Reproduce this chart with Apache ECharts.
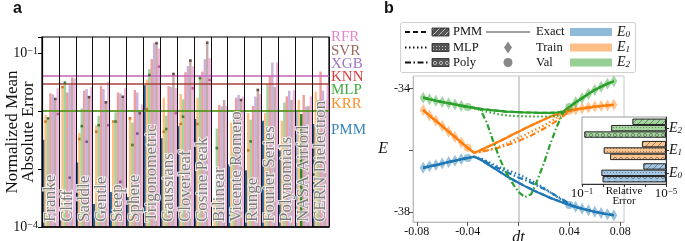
<!DOCTYPE html>
<html>
<head>
<meta charset="utf-8">
<script src="https://cdn.jsdelivr.net/npm/echarts@6/dist/echarts.min.js"></script>
<style>
  html, body { margin: 0; padding: 0; background: #fff; }
  #chart { width: 685px; height: 241px; }
</style>
</head>
<body>
<div id="chart"></div>
<script>
// ---- panel a: normalized mean absolute error per benchmark ----
const benchmarks = ['Franke', 'Cliff', 'Saddle', 'Gentle', 'Steep', 'Sphere', 'Trigonometric', 'Gaussians',
  'Cloverleaf', 'Cosine Peak', 'Bilinear', 'Vicente Romero', 'Runge', 'Fourier Series', 'Polynomials',
  'NASA Airfoil', 'CERN Dielectron'];
const methods = ['PMM', 'KRR', 'MLP', 'KNN', 'XGB', 'SVR', 'RFR'];

const errPMM = [3.2e-3, 1.3e-4, 1.3e-3, 2.5e-4, 4.0e-4, 3.3e-4, 0.028, 3.4e-3, 5.5e-3, 7.3e-3, 5e-5, 1.2e-3, 9.5e-4, 6.8e-3, 2.1e-3, 0.0105, 6.0e-3];
const errKRR = [8.6e-3, 0.027, 4.2e-3, 5.7e-3, 6.2e-3, 7.8e-3, 0.035, 0.017, 0.0197, 0.017, 3e-4, 6.3e-3, 9.2e-3, 9.2e-3, 6.8e-3, 0.0156, 0.0217];
const errMLP = [7.8e-3, 0.031, 0.0112, 8.3e-3, 9.5e-3, 6.3e-3, 0.053, 8.3e-3, 0.016, 0.038, 5.0e-3, 9.4e-3, 7.1e-3, 0.0294, 0.0141, 8.9e-3, 0.0156];
const errKNN = [0.0203, 0.021, 0.0225, 0.0275, 0.021, 0.023, 0.079, 0.027, 0.047, 0.048, 0.0128, 0.017, 0.0123, 0.041, 0.018, 0.019, 0.048];
const errXGB = [0.0195, 0.028, 0.024, 0.024, 0.0203, 0.021, 0.15, 0.026, 0.060, 0.079, 0.012, 0.019, 0.0178, 0.069, 0.0225, 0.012, 0.0225];
const errSVR = [0.0166, 0.038, 0.0178, 0.0146, 0.018, 9.0e-3, 0.15, 0.045, 0.077, 0.15, 0.0156, 0.0156, 0.024, 0.026, 0.0156, 0.0123, 0.0156];
const errRFR = [0.0248, 0.037, 0.026, 0.032, 0.0248, 0.013, 0.12, 0.025, 0.059, 0.082, 0.0123, 0.0178, 0.0197, 0.069, 0.023, 0.018, 0.028];

// small dots inside the bars (null = not visible)
const dotKRR = [6.6e-3, 0.026, 3.3e-3, 4.4e-3, 6.6e-3, 7.5e-3, 0.0108, 4.4e-3, 6e-3, 6e-3, null, null, 2.1e-3, null, null, null, null];
const dotMLP = [7.5e-3, 0.031, 5.5e-3, 5.7e-3, 6.6e-3, 2.6e-3, 0.042, 4.9e-3, 8e-3, 0.037, 2.3e-3, null, 3e-3, null, null, null, null];
const dotXGB = [null, 7.1e-4, 2.96e-3, null, 6e-4, 4.1e-3, null, null, null, null, null, 1.42e-3, null, null, null, null, null];
const dotSVR = [0.0162, null, 0.0174, 0.0142, 0.0177, 9.2e-3, 0.149, 0.0438, 0.0745, 0.152, null, 0.0156, 0.0232, null, null, null, null];
const dotRFR = [8.9e-3, null, null, 5.7e-3, null, null, 0.0586, 9.2e-3, 0.0248, 0.0345, null, null, null, null, null, null, null];

// mean error lines, same order as methods
const meanErr = [0.0047, 0.0130, 0.0141, 0.0294, 0.0381, 0.0319, 0.0403];

// ---- panel b: energies vs dt ----
const dtGrid = [-0.075, -0.07, -0.065, -0.06, -0.055, -0.05, -0.045, -0.04, -0.035, -0.03, -0.025, -0.02, -0.015, -0.01, -0.005, 0,
  0.005, 0.01, 0.015, 0.02, 0.025, 0.03, 0.035, 0.04, 0.045, 0.05, 0.055, 0.06, 0.065, 0.07, 0.075];
const exactE0 = [-36.57, -36.52, -36.48, -36.43, -36.38, -36.34, -36.29, -36.25, -36.21, -36.30, -36.43, -36.56, -36.69, -36.82, -36.94, -37.05,
  -37.16, -37.26, -37.36, -37.45, -37.54, -37.62, -37.70, -37.77, -37.83, -37.89, -37.94, -37.99, -38.03, -38.07, -38.10];
const exactE1 = [-34.70, -34.88, -35.05, -35.22, -35.40, -35.57, -35.75, -35.92, -36.08, -36.00, -35.90, -35.81, -35.71, -35.61, -35.50, -35.40,
  -35.30, -35.20, -35.10, -35.01, -34.92, -34.84, -34.77, -34.72, -34.68, -34.65, -34.62, -34.59, -34.57, -34.55, -34.53];
const exactE2 = [-34.30, -34.35, -34.40, -34.44, -34.48, -34.52, -34.56, -34.60, -34.63, -34.66, -34.69, -34.71, -34.73, -34.75, -34.76, -34.77,
  -34.78, -34.78, -34.79, -34.79, -34.79, -34.78, -34.75, -34.60, -34.45, -34.32, -34.18, -34.05, -33.95, -33.85, -33.77];
const mlpE0 = [-36.57, -36.52, -36.48, -36.43, -36.38, -36.34, -36.29, -36.25, -36.21, -36.26, -36.35, -36.45, -36.55, -36.63, -36.70, -36.78,
  -36.88, -36.98, -37.10, -37.22, -37.36, -37.50, -37.63, -37.75, -37.83, -37.89, -37.94, -37.99, -38.03, -38.07, -38.10];
const mlpE1 = [-34.70, -34.88, -35.05, -35.22, -35.40, -35.57, -35.75, -35.92, -36.08, -36.05, -36.00, -35.95, -35.88, -35.80, -35.70, -35.60,
  -35.50, -35.40, -35.30, -35.20, -35.08, -34.95, -34.85, -34.75, -34.68, -34.65, -34.62, -34.59, -34.57, -34.55, -34.53];
const mlpE2 = [-34.30, -34.35, -34.40, -34.44, -34.48, -34.52, -34.56, -34.60, -34.65, -34.70, -34.75, -34.80, -34.84, -34.87, -34.89, -34.90,
  -34.90, -34.91, -34.91, -34.91, -34.91, -34.90, -34.82, -34.62, -34.45, -34.32, -34.18, -34.05, -33.95, -33.85, -33.77];
const polyE0 = [-36.57, -36.52, -36.48, -36.43, -36.38, -36.34, -36.29, -36.25, -36.21, -36.28, -36.39, -36.50, -36.60, -36.70, -36.79, -36.88,
  -36.96, -37.05, -37.15, -37.25, -37.36, -37.48, -37.60, -37.72, -37.83, -37.89, -37.94, -37.99, -38.03, -38.07, -38.10];
const polyE1 = [-34.70, -34.88, -35.05, -35.22, -35.40, -35.57, -35.75, -35.92, -36.08, -36.05, -36.01, -35.97, -35.91, -35.85, -35.78, -35.70,
  -35.61, -35.52, -35.41, -35.30, -35.18, -35.05, -34.90, -34.75, -34.68, -34.65, -34.62, -34.59, -34.57, -34.55, -34.53];
const polyE2 = [-34.30, -34.35, -34.40, -34.44, -34.48, -34.52, -34.56, -34.60, -34.63, -34.68, -35.10, -35.70, -36.25, -36.70, -37.05, -37.35,
  -37.52, -37.42, -36.95, -36.42, -35.80, -35.25, -34.80, -34.60, -34.45, -34.32, -34.18, -34.05, -33.95, -33.85, -33.77];
// PMM prediction lies on top of the exact curve at this scale
const pmmE0 = exactE0, pmmE1 = exactE1, pmmE2 = exactE2;

const trainDt = [-0.075, -0.07, -0.065, -0.06, -0.055, -0.05, -0.045, 0.045, 0.05, 0.055, 0.06, 0.065, 0.07, 0.075];
const valDt = [-0.04, 0.04];

// inset: relative error per state, per model
const states = ['E0', 'E1', 'E2'];
const relErrPMM = [1.2e-4, 1.4e-4, 4.0e-4];
const relErrMLP = [0.012, 9.3e-3, 4.1e-3];
const relErrPoly = [0.0105, 4.6e-3, 0.078];

// ---------------------------------------------------------------
const SERIF = '"Liberation Serif", "DejaVu Serif", serif';
const lightBar = ['rgba(31,119,180,0.55)', 'rgba(255,127,14,0.5)', 'rgba(44,160,44,0.45)', 'rgba(214,39,40,0.45)',
  'rgba(148,103,189,0.5)', 'rgba(140,86,75,0.5)', 'rgba(227,119,194,0.55)'];
const darkBar = ['#1d5f9b', '#e0700a', '#23862a', '#b01e20', '#7a4fa5', '#6e4239', '#c75aa8'];
const dotColor = ['#12406b', '#d0650a', '#1c701c', '#a01818', '#6a3a9a', '#4e2e26', '#c0409a'];
const lineAlpha = ['rgba(31,119,180,0.75)', 'rgba(255,127,14,0.7)', 'rgba(44,160,44,0.7)', 'rgba(214,39,40,0.55)',
  'rgba(148,103,189,0.6)', 'rgba(140,86,75,0.45)', 'rgba(227,119,194,0.6)'];
const AMIN = 1e-4;   // panel a axis floor
const IMIN = 1e-5;   // inset axis floor

const errs = [errPMM, errKRR, errMLP, errKNN, errXGB, errSVR, errRFR];
const dots = [null, dotKRR, dotMLP, null, dotXGB, dotSVR, dotRFR];
const bestIdx = benchmarks.map((_, c) => {
  let b = 0;
  errs.forEach((e, m) => { if (e[c] < errs[b][c]) b = m; });
  return b;
});

function hatch(bg, fg, kind) {
  const c = document.createElement('canvas');
  c.width = 6; c.height = 6;
  const g = c.getContext('2d');
  g.fillStyle = bg; g.fillRect(0, 0, 6, 6);
  g.strokeStyle = fg; g.fillStyle = fg; g.lineWidth = 1;
  if (kind === 'pmm') {
    g.beginPath();
    g.moveTo(0, 6); g.lineTo(6, 0);
    g.moveTo(-3, 3); g.lineTo(3, -3);
    g.moveTo(3, 9); g.lineTo(9, 3);
    g.stroke();
  } else if (kind === 'mlp') {
    g.fillRect(1, 1, 1, 1); g.fillRect(4, 4, 1, 1); g.fillRect(1, 4, 1, 1); g.fillRect(4, 1, 1, 1);
  } else {
    g.beginPath(); g.arc(3, 3, 1.6, 0, Math.PI * 2); g.stroke();
  }
  return { image: c, repeat: 'repeat' };
}
const stateFill = ['#a4c6e2', '#fcc590', '#a5d6a0'];

const series = [];

// panel a bars: a transparent floor bar stacked under each value so bars rise from 1e-4
methods.forEach((name, m) => {
  series.push({
    type: 'bar', xAxisIndex: 0, yAxisIndex: 0, stack: 's' + m, silent: true,
    barGap: '0%', barCategoryGap: '0%',
    data: benchmarks.map(() => AMIN),
    itemStyle: { color: 'rgba(0,0,0,0)' }
  });
  series.push({
    type: 'bar', name, xAxisIndex: 0, yAxisIndex: 0, stack: 's' + m, silent: true,
    barGap: '0%', barCategoryGap: '0%',
    data: errs[m].map((v, c) => ({
      value: Math.max(v - AMIN, 0),
      itemStyle: { color: bestIdx[c] === m ? darkBar[m] : lightBar[m] }
    })),
    markLine: {
      silent: true, symbol: 'none', z: 4,
      label: { show: false },
      lineStyle: { color: lineAlpha[m], width: 2, type: 'solid' },
      data: [{ yAxis: meanErr[m] }]
    }
  });
  if (dots[m]) {
    series.push({
      type: 'scatter', xAxisIndex: 1, yAxisIndex: 0, silent: true, z: 4,
      symbol: 'rect', symbolSize: 2.6,
      itemStyle: { color: dotColor[m] },
      data: dots[m].map((v, c) => (v == null ? null : [c + (m + 0.5) / methods.length, v])).filter(Boolean)
    });
  }
});

// panel b curves
const exact = [exactE0, exactE1, exactE2];
const preds = [
  { arr: [pmmE0, pmmE1, pmmE2], dash: [5, 3] },
  { arr: [mlpE0, mlpE1, mlpE2], dash: [1.5, 2.5] },
  { arr: [polyE0, polyE1, polyE2], dash: [6, 2.5, 1.5, 2.5] }
];
const curveCol = ['#1f77b4', '#ff7f0e', '#2ca02c'];
const pts = (arr) => dtGrid.map((d, i) => [d, arr[i]]);

exact.forEach((arr, k) => {
  series.push({
    type: 'line', xAxisIndex: 2, yAxisIndex: 1, silent: true, symbol: 'none', z: 2,
    data: pts(arr),
    lineStyle: { color: curveCol[k], width: 2.2 },
    markLine: k === 0 ? {
      silent: true, symbol: 'none', z: 1, label: { show: false },
      lineStyle: { color: '#c4c4c4', width: 1.5, type: 'solid' },
      data: [{ xAxis: 0 }]
    } : undefined
  });
});
preds.forEach((p) => {
  p.arr.forEach((arr, k) => {
    series.push({
      type: 'line', xAxisIndex: 2, yAxisIndex: 1, silent: true, symbol: 'none', z: 2,
      data: pts(arr),
      lineStyle: { color: curveCol[k], width: 2.2, type: p.dash }
    });
  });
});
exact.forEach((arr, k) => {
  series.push({
    type: 'scatter', xAxisIndex: 2, yAxisIndex: 1, silent: true, z: 3,
    symbol: 'diamond', symbolSize: [7, 12],
    itemStyle: { color: curveCol[k], opacity: 0.45 },
    data: trainDt.map((d) => [d, arr[dtGrid.indexOf(d)]])
  });
  series.push({
    type: 'scatter', xAxisIndex: 2, yAxisIndex: 1, silent: true, z: 3,
    symbol: 'circle', symbolSize: 8,
    itemStyle: { color: curveCol[k], opacity: 0.45 },
    data: valDt.map((d) => [d, arr[dtGrid.indexOf(d)]])
  });
});

// inset bars (horizontal, floor at 1e-5)
[['pmm', relErrPMM], ['mlp', relErrMLP], ['poly', relErrPoly]].forEach(([kind, vals]) => {
  series.push({
    type: 'bar', xAxisIndex: 3, yAxisIndex: 2, stack: 'i' + kind, silent: true, z: 6,
    barGap: '0%', barCategoryGap: '14%',
    data: states.map(() => IMIN),
    itemStyle: { color: 'rgba(0,0,0,0)' }
  });
  series.push({
    type: 'bar', xAxisIndex: 3, yAxisIndex: 2, stack: 'i' + kind, silent: true, z: 6,
    barGap: '0%', barCategoryGap: '14%',
    data: vals.map((v, i) => ({
      value: v - IMIN,
      itemStyle: { color: hatch(stateFill[i], 'rgba(40,40,40,0.45)', kind), borderColor: '#222', borderWidth: 1 }
    }))
  });
});

// label only exact decades listed in `shown`
const supLabel = (shown) => (v) => {
  const lg = Math.log10(v);
  const e = Math.round(lg);
  return (Math.abs(lg - e) < 1e-6 && shown.includes(e)) ? `{b|10}{s|\u2212${-e}}` : '';
};
const supRich = (fs) => ({
  b: { fontFamily: SERIF, fontSize: fs, color: '#111' },
  s: { fontFamily: SERIF, fontSize: Math.round(fs * 0.68), color: '#111', verticalAlign: 'top' }
});

const txt = (text, x, y, size, color, extra) => ({
  type: 'text', silent: true, z: 20,
  style: Object.assign({ text, x, y, fill: color, font: `${size}px ${SERIF}`,
    textAlign: 'left', textVerticalAlign: 'middle', align: 'left', verticalAlign: 'middle' }, extra || {})
});
const eRich = {
  e: { fontFamily: SERIF, fontStyle: 'italic', fontSize: 14, color: '#111' },
  s: { fontFamily: SERIF, fontStyle: 'italic', fontSize: 9, color: '#111', verticalAlign: 'bottom' }
};

const legendRows = [32, 47.5, 62.5];
const graphic = [
  // panel letters
  { type: 'text', silent: true, style: { text: 'a', x: 13, y: 9, font: 'bold 16px "Liberation Sans", sans-serif', fill: '#111', textVerticalAlign: 'middle', verticalAlign: 'middle' } },
  { type: 'text', silent: true, style: { text: 'b', x: 384, y: 9, font: 'bold 16px "Liberation Sans", sans-serif', fill: '#111', textVerticalAlign: 'middle', verticalAlign: 'middle' } },
  // method labels to the right of panel a
  txt('RFR', 331, 37, 15, 'rgba(227,119,194,0.9)'),
  txt('SVR', 331, 51, 15, 'rgba(140,86,75,0.9)'),
  txt('XGB', 331, 64, 15, 'rgba(148,103,189,0.9)'),
  txt('KNN', 331, 77, 15, 'rgba(214,39,40,0.9)'),
  txt('MLP', 331, 90.5, 15, 'rgba(44,160,44,0.9)'),
  txt('KRR', 331, 104, 15, 'rgba(255,127,14,0.9)'),
  txt('PMM', 331, 130, 15, 'rgba(31,119,180,0.9)'),
  // legend box of panel b
  { type: 'rect', silent: true, z: 19, shape: { x: 400.5, y: 22.5, width: 235, height: 50, r: 2 }, style: { fill: '#fff', stroke: '#cfcfcf', lineWidth: 1 } },
  { type: 'line', silent: true, z: 20, shape: { x1: 405, y1: legendRows[0], x2: 428, y2: legendRows[0] }, style: { stroke: '#111', lineWidth: 1.8, lineDash: [5, 3] } },
  { type: 'line', silent: true, z: 20, shape: { x1: 405, y1: legendRows[1], x2: 428, y2: legendRows[1] }, style: { stroke: '#111', lineWidth: 1.8, lineDash: [1.5, 2.5] } },
  { type: 'line', silent: true, z: 20, shape: { x1: 405, y1: legendRows[2], x2: 428, y2: legendRows[2] }, style: { stroke: '#111', lineWidth: 1.8, lineDash: [6, 2.5, 1.5, 2.5] } },
  { type: 'rect', silent: true, z: 20, shape: { x: 432, y: legendRows[0] - 4, width: 17, height: 8 }, style: { fill: hatch('#555', '#bbb', 'pmm'), stroke: '#222', lineWidth: 0.8 } },
  { type: 'rect', silent: true, z: 20, shape: { x: 432, y: legendRows[1] - 4, width: 17, height: 8 }, style: { fill: hatch('#555', '#bbb', 'mlp'), stroke: '#222', lineWidth: 0.8 } },
  { type: 'rect', silent: true, z: 20, shape: { x: 432, y: legendRows[2] - 4, width: 17, height: 8 }, style: { fill: hatch('#555', '#bbb', 'poly'), stroke: '#222', lineWidth: 0.8 } },
  txt('PMM', 453, legendRows[0], 12.5, '#111'),
  txt('MLP', 453, legendRows[1], 12.5, '#111'),
  txt('Poly', 453, legendRows[2], 12.5, '#111'),
  { type: 'line', silent: true, z: 20, shape: { x1: 486, y1: legendRows[0], x2: 530, y2: legendRows[0] }, style: { stroke: '#808080', lineWidth: 1.6 } },
  { type: 'polygon', silent: true, z: 20, shape: { points: [[508, legendRows[1] - 6], [512, legendRows[1]], [508, legendRows[1] + 6], [504, legendRows[1]]] }, style: { fill: '#888' } },
  { type: 'circle', silent: true, z: 20, shape: { cx: 508, cy: legendRows[2], r: 4.5 }, style: { fill: '#888' } },
  txt('Exact', 536, legendRows[0], 12.5, '#111'),
  txt('Train', 536, legendRows[1], 12.5, '#111'),
  txt('Val', 536, legendRows[2], 12.5, '#111'),
  ...states.map((s, i) => ({ type: 'rect', silent: true, z: 20, shape: { x: 570, y: legendRows[i] - 4, width: 42, height: 8 }, style: { fill: ['rgba(31,119,180,0.5)', 'rgba(255,127,14,0.5)', 'rgba(44,160,44,0.5)'][i] } })),
  ...states.map((s, i) => txt(`{e|E}{s|${s.slice(1)}}`, 617, legendRows[i], 14, '#111', { rich: eRich }))
];

const chart = echarts.init(document.getElementById('chart'), null, { renderer: 'canvas' });
chart.setOption({
  animation: false,
  backgroundColor: '#fff',
  grid: [
    { left: 42, top: 37, width: 287, height: 190, show: true, borderColor: '#000', borderWidth: 1.2, backgroundColor: 'transparent', outerBoundsMode: 'none', containLabel: false },
    { left: 413, top: 76, width: 211, height: 146, show: true, borderColor: '#c8c8c8', borderWidth: 1, backgroundColor: 'transparent', outerBoundsMode: 'none', containLabel: false },
    { left: 582, top: 117, width: 84, height: 67, show: true, borderColor: '#9a9a9a', borderWidth: 1, backgroundColor: '#fff', z: 5, outerBoundsMode: 'none', containLabel: false }
  ],
  xAxis: [
    {
      type: 'category', gridIndex: 0, data: benchmarks, z: 5,
      axisLine: { show: true, lineStyle: { color: '#000', width: 1.5 } },
      axisTick: { show: false },
      splitLine: { show: true, interval: 0, lineStyle: { color: '#111', width: 1 } },
      axisLabel: {
        inside: true, rotate: 90, interval: 0, margin: 5,
        fontFamily: SERIF, fontSize: 17, color: 'rgba(115,115,115,0.95)',
        textBorderColor: 'rgba(255,255,255,0.8)', textBorderWidth: 2
      }
    },
    { type: 'value', gridIndex: 0, min: 0, max: benchmarks.length, show: false },
    {
      type: 'value', gridIndex: 1, min: -0.083, max: 0.083,
      axisLine: { show: true, onZero: false, lineStyle: { color: '#bdbdbd' } },
      axisTick: { show: true, length: 4, lineStyle: { color: '#555' }, customValues: [-0.08, -0.04, 0, 0.04, 0.08] },
      splitLine: { show: false },
      axisLabel: {
        customValues: [-0.08, -0.04, 0, 0.04, 0.08], margin: 4,
        fontFamily: SERIF, fontSize: 12, color: '#111',
        formatter: (v) => (Math.abs(v) < 1e-9 ? '' : v.toFixed(2))
      },
      name: 'dt', nameLocation: 'middle', nameGap: 8, nameMoveOverlap: false,
      nameTextStyle: { fontFamily: SERIF, fontStyle: 'italic', fontSize: 16, color: '#111' }
    },
    {
      type: 'log', gridIndex: 2, min: IMIN, max: 0.1, inverse: true, z: 6,
      axisLine: { show: true, lineStyle: { color: '#333' } },
      axisTick: { show: true, length: 3, lineStyle: { color: '#333' } },
      splitLine: { show: false },
      axisLabel: { margin: 3, formatter: supLabel([-1, -5]), rich: supRich(13) },
      name: 'Relative\nError', nameLocation: 'middle', nameGap: 2, nameMoveOverlap: false,
      nameTextStyle: { fontFamily: SERIF, fontSize: 11, lineHeight: 10, color: '#111', verticalAlign: 'top' }
    }
  ],
  yAxis: [
    {
      type: 'log', gridIndex: 0, min: AMIN, max: 0.19, z: 5,
      axisLine: { show: true, lineStyle: { color: '#000', width: 1.2 } },
      axisTick: { show: true, length: 4, lineStyle: { color: '#000' } },
      splitLine: { show: false },
      axisLabel: { margin: 4, formatter: supLabel([-1, -4]), rich: supRich(14) },
      name: 'Normalized Mean\nAbsolute Error', nameLocation: 'middle', nameGap: 5, nameMoveOverlap: false,
      nameTextStyle: { fontFamily: SERIF, fontSize: 17, lineHeight: 16.5, color: '#111' }
    },
    {
      type: 'value', gridIndex: 1, min: -38.32, max: -33.6,
      axisLine: { show: true, onZero: false, lineStyle: { color: '#bdbdbd' } },
      axisTick: { show: true, length: 4, lineStyle: { color: '#555' }, customValues: [-38, -36, -34] },
      splitLine: { show: false },
      axisLabel: {
        customValues: [-38, -36, -34], margin: 3,
        fontFamily: SERIF, fontSize: 12, color: '#111',
        formatter: (v) => (Math.round(v) === -36 ? '' : String(Math.round(v)))
      },
      name: 'E', nameLocation: 'middle', nameGap: 25, nameRotate: 0, nameMoveOverlap: false,
      nameTextStyle: { fontFamily: SERIF, fontStyle: 'italic', fontSize: 16, color: '#111' }
    },
    {
      type: 'category', gridIndex: 2, data: states, position: 'right', z: 6,
      axisLine: { show: true, lineStyle: { color: '#333' } },
      axisTick: { show: true, alignWithLabel: true, length: 3, lineStyle: { color: '#333' } },
      axisLabel: { margin: 3, formatter: (v) => `{e|E}{s|${v.slice(1)}}`, rich: eRich }
    }
  ],
  series,
  graphic
});
</script>
</body>
</html>
